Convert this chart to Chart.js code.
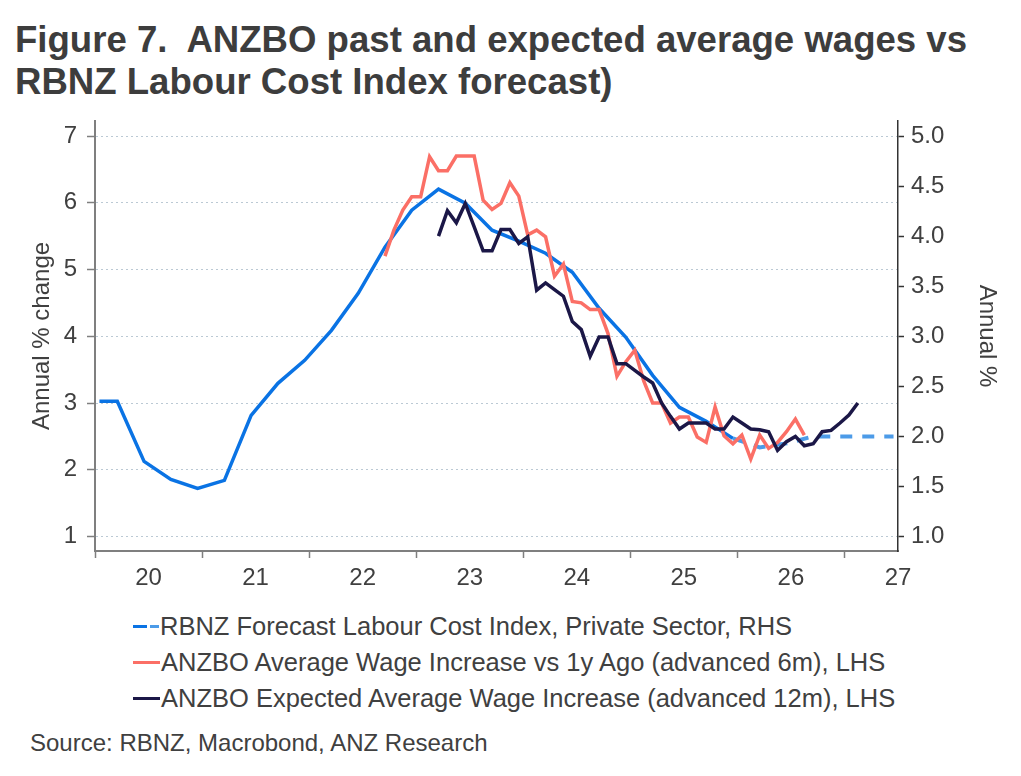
<!DOCTYPE html>
<html>
<head>
<meta charset="utf-8">
<script src="https://cdn.jsdelivr.net/npm/chart.js@4.4.1/dist/chart.umd.min.js"></script>
<style>
  body { margin: 0; background: #fff; font-family: "Liberation Sans", Arial, sans-serif; color: #404040; }
  #page { position: relative; width: 1021px; height: 776px; overflow: hidden; }
  h1 { position: absolute; left: 15px; top: 19px; margin: 0; font-size: 36.6px; line-height: 42px;
       font-weight: bold; color: #3d3d3d; white-space: pre; }
  #wrap { position: absolute; left: 0; top: 110px; width: 1021px; height: 490px; }
  #legend { position: absolute; left: 133px; top: 608px; font-size: 25.5px; line-height: 36px; }
  .row { display: flex; align-items: center; height: 36px; white-space: nowrap; }
  .sw { display: inline-block; height: 3px; }
  #source { position: absolute; left: 30px; top: 728px; font-size: 24px; line-height: 30px; }
</style>
</head>
<body>
<div id="page">
  <h1>Figure 7.  ANZBO past and expected average wages vs
RBNZ Labour Cost Index forecast)</h1>
  <div id="wrap"><canvas id="chart" width="1021" height="490"></canvas></div>
  <div id="legend">
    <div class="row"><span class="sw" style="width:14px;background:#0a73e4"></span><span class="sw" style="width:3px"></span><span class="sw" style="width:9px;background:#4c9be8;margin-right:1px"></span>RBNZ Forecast Labour Cost Index, Private Sector, RHS</div>
    <div class="row"><span class="sw" style="width:27px;background:#fb6f66;margin-right:1px"></span>ANZBO Average Wage Increase vs 1y Ago (advanced 6m), LHS</div>
    <div class="row"><span class="sw" style="width:27px;background:#1b1747;margin-right:1px"></span>ANZBO Expected Average Wage Increase (advanced 12m), LHS</div>
  </div>
  <div id="source">Source: RBNZ, Macrobond, ANZ Research</div>
</div>

<script>
// Datos
const yearLabels = ["20", "21", "22", "23", "24", "25", "26", "27"];
const leftTicks = [1, 2, 3, 4, 5, 6, 7];
const rightTicks = [1.0, 1.5, 2.0, 2.5, 3.0, 3.5, 4.0, 4.5, 5.0];

// RBNZ LCI (eje derecho), trimestral
const lciMonths = ["2020-01", "2020-03", "2020-06", "2020-09", "2020-12", "2021-03", "2021-06", "2021-09",
    "2021-12", "2022-03", "2022-06", "2022-09", "2022-12", "2023-03", "2023-06", "2023-09", "2023-12",
    "2024-03", "2024-06", "2024-09", "2024-12", "2025-03", "2025-06", "2025-09", "2025-12", "2026-03",
    "2026-06", "2026-09", "2026-12", "2027-03", "2027-06"];
const lciValues = [2.35, 2.35, 1.75, 1.57, 1.48, 1.56, 2.21, 2.53, 2.76, 3.06, 3.43, 3.89, 4.26, 4.47,
    4.33, 4.06, 3.95, 3.83, 3.64, 3.28, 2.99, 2.61, 2.29, 2.15, 1.98, 1.89, 1.93, 2.0, 2.0, 2.0, 2.0];
const lciForecastFrom = "2025-12";

// ANZBO salario medio vs hace 1 año (adelantado 6m), mensual desde 2022-09
const pastStart = "2022-09";
const pastValues = [5.20, 5.59, 5.89, 6.09, 6.09, 6.69, 6.48, 6.48, 6.70, 6.70,
    6.70, 6.04, 5.90, 5.99, 6.30, 6.10, 5.52, 5.59, 5.49, 4.90,
    5.08, 4.52, 4.50, 4.40, 4.40, 4.04, 3.40, 3.62, 3.79, 3.33,
    3.00, 3.00, 2.70, 2.79, 2.79, 2.49, 2.41, 2.94, 2.51, 2.39,
    2.52, 2.16, 2.52, 2.32, 2.41, 2.57, 2.76, 2.52];

// ANZBO salario esperado (adelantado 12m), mensual desde 2023-03
const expStart = "2023-03";
const expValues = [5.50, 5.88, 5.70, 5.99, 5.64, 5.28, 5.28, 5.60, 5.60, 5.39,
    5.49, 4.69, 4.80, 4.70, 4.60, 4.22, 4.10, 3.70, 3.99, 3.99,
    3.59, 3.59, 3.49, 3.39, 3.30, 3.00, 2.80, 2.61, 2.70, 2.70,
    2.70, 2.61, 2.61, 2.79, 2.70, 2.61, 2.60, 2.57, 2.29, 2.42,
    2.50, 2.36, 2.39, 2.57, 2.59, 2.70, 2.82, 3.00];

const axisColor = "#7f7f7f";
const textColor = "#404040";
const tickFont = { family: "'Liberation Sans', Arial, sans-serif", size: 24 };

// mes "AAAA-MM" -> año decimal (mitad de mes)
function toDec(m) {
    const [y, mo] = m.split("-").map(Number);
    return y + (mo - 0.5) / 12;
}

function monthsFrom(start, n) {
    let [y, m] = start.split("-").map(Number);
    const out = [];
    for (let i = 0; i < n; i++) {
        out.push(y + "-" + String(m).padStart(2, "0"));
        m++;
        if (m > 12) { m = 1; y++; }
    }
    return out;
}

const pastMonths = monthsFrom(pastStart, pastValues.length);
const expMonths = monthsFrom(expStart, expValues.length);
const forecastIdx = lciMonths.indexOf(lciForecastFrom);

const firstYear = 2020;
const halfYears = [];
for (let i = 0; i <= yearLabels.length * 2 - 1; i++) halfYears.push(firstYear + i / 2);

function fixWidth(w) {
    return function (s) {
        s.width = w;
        s.paddingTop = 0; s.paddingBottom = 0; s.paddingLeft = 0; s.paddingRight = 0;
    };
}

new Chart(document.getElementById("chart"), {
    type: "line",
    data: {
        datasets: [
            {
                label: "ANZBO Expected Average Wage Increase (advanced 12m), LHS",
                data: expMonths.map((m, i) => ({ x: toDec(m), y: expValues[i] })),
                yAxisID: "yL",
                borderColor: "#1b1747",
                borderWidth: 3.5,
                order: 0,
            },
            {
                label: "ANZBO Average Wage Increase vs 1y Ago (advanced 6m), LHS",
                data: pastMonths.map((m, i) => ({ x: toDec(m), y: pastValues[i] })),
                yAxisID: "yL",
                borderColor: "#fb6f66",
                borderWidth: 3.5,
                order: 1,
            },
            {
                label: "RBNZ Forecast Labour Cost Index, Private Sector, RHS",
                data: lciMonths.map((m, i) => ({ x: toDec(m), y: lciValues[i] })),
                yAxisID: "yR",
                borderColor: "#0a73e4",
                borderWidth: 3.5,
                order: 2,
                segment: {
                    borderDash: (ctx) => (ctx.p0DataIndex >= forecastIdx ? [12, 10] : undefined),
                    borderColor: (ctx) => (ctx.p0DataIndex >= forecastIdx ? "#4c9be8" : undefined),
                    borderWidth: (ctx) => (ctx.p0DataIndex >= forecastIdx ? 4 : undefined),
                },
            },
        ],
    },
    options: {
        responsive: false,
        animation: false,
        devicePixelRatio: 1,
        layout: { padding: { top: 11, left: 0, right: 0, bottom: 0 } },
        elements: { point: { radius: 0 }, line: { tension: 0 } },
        plugins: { legend: { display: false }, tooltip: { enabled: false } },
        scales: {
            x: {
                type: "linear",
                min: firstYear,
                max: firstYear + 7.5,
                afterBuildTicks: (s) => { s.ticks = halfYears.map((v) => ({ value: v })); },
                afterFit: (s) => {
                    s.height = 49;
                    s.paddingLeft = 0; s.paddingRight = 0;
                },
                ticks: {
                    autoSkip: false,
                    maxRotation: 0,
                    padding: 6,
                    color: textColor,
                    font: tickFont,
                    callback: (v) => (v % 1 === 0.5 ? yearLabels[Math.floor(v) - firstYear] : ""),
                },
                grid: {
                    drawOnChartArea: false,
                    tickLength: 7,
                    tickWidth: 1.5,
                    tickColor: (ctx) => (ctx.tick && ctx.tick.value % 1 === 0 ? axisColor : "rgba(0,0,0,0)"),
                },
                border: { color: axisColor, width: 2 },
            },
            yL: {
                position: "left",
                min: 0.783,
                max: 7.225,
                afterBuildTicks: (s) => { s.ticks = leftTicks.map((v) => ({ value: v })); },
                afterFit: fixWidth(95),
                ticks: { padding: 10, color: textColor, font: tickFont },
                grid: {
                    color: "rgba(175,192,205,0.85)",
                    lineWidth: 1,
                    tickLength: 8,
                    tickColor: axisColor,
                    tickWidth: 1.5,
                },
                border: { color: axisColor, width: 2, dash: [2, 3] },
                title: {
                    display: true,
                    text: "Annual % change",
                    color: textColor,
                    font: tickFont,
                    padding: { top: 27.6, bottom: 0 },
                },
            },
            yR: {
                position: "right",
                min: 0.855,
                max: 5.151,
                afterBuildTicks: (s) => { s.ticks = rightTicks.map((v) => ({ value: v })); },
                afterFit: fixWidth(123),
                ticks: {
                    padding: 7,
                    color: textColor,
                    font: tickFont,
                    callback: (v) => v.toFixed(1),
                },
                grid: {
                    drawOnChartArea: false,
                    tickLength: 6,
                    tickColor: "#333333",
                    tickWidth: 1.5,
                },
                border: { color: "#333333", width: 1.5 },
                title: {
                    display: true,
                    text: "Annual %",
                    color: textColor,
                    font: tickFont,
                    padding: { top: 19.6, bottom: 0 },
                },
            },
        },
    },
});
</script>
</body>
</html>
